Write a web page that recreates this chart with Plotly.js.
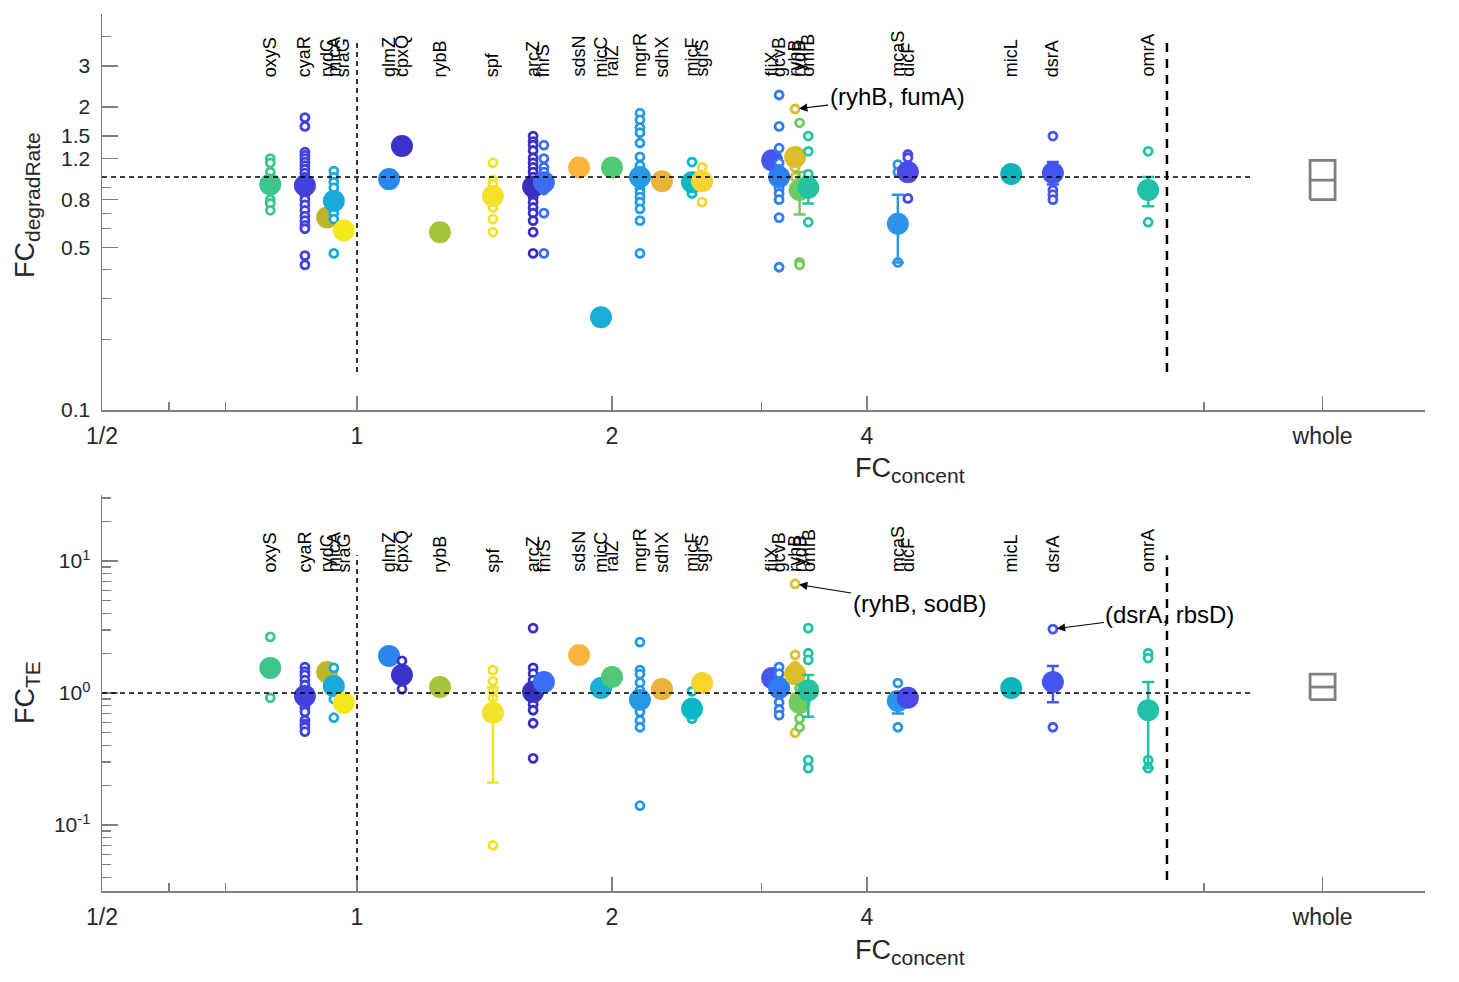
<!DOCTYPE html>
<html>
<head>
<meta charset="utf-8">
<script src="https://cdn.plot.ly/plotly-3.0.1.min.js"></script>
<style>html,body{margin:0;padding:0;background:#fff;}#chart{width:1459px;height:982px;}</style>
</head>
<body>
<div id="chart"></div>
<script>
// ---------------- DATA ----------------
const sRNA = ['oxyS','cyaR','rydC','micA','sraG','glmZ','cpxQ','rybB','spf','arcZ','fnrS','sdsN','micC','ralZ','mgrR','sdhX','micF','sgrS','fliX','gcvB','ryhB','rydB','omrB','mcaS','dicF','micL','dsrA','omrA'];
const fcConcent = [0.79,0.868,0.922,0.939,0.965,1.091,1.13,1.253,1.447,1.614,1.662,1.829,1.941,2.0,2.158,2.291,2.486,2.555,3.09,3.15,3.29,3.33,3.41,4.35,4.47,5.92,6.63,8.59];
const sRNAColors = ['#3DC58C','#4141DE','#BFB52A','#1AA9DB','#F5E91B','#2A87F0','#3B32C9','#A6C43A','#F3E12A','#3A30C0','#3C6EF5','#FBB53C','#18AED6','#52C876','#2598E6','#E9B23A','#06B9C9','#F8D42E','#4756F2','#2E7EF2','#DBBE2A','#6FCB5D','#26C3A0','#2B93E8','#4B48EC','#0DB4B9','#4456F2','#21C0A9'];

// FC of degradation rate: mean per sRNA, error-bar ends (null = none), per-target values
const degradMean = [0.93,0.92,0.67,0.79,0.59,0.98,1.36,0.58,0.83,0.91,0.95,1.1,0.25,1.1,1.0,0.96,0.95,0.96,1.18,1.0,1.22,0.88,0.9,0.63,1.05,1.03,1.04,0.88];
const degradLo = [null,null,null,null,null,null,null,null,null,null,null,null,null,null,null,null,null,null,null,null,null,0.69,0.77,0.43,null,null,0.93,0.75];
const degradHi = [null,null,null,null,null,null,null,null,null,null,null,null,null,null,null,null,null,null,null,null,null,1.05,1.0,0.84,null,null,1.16,1.0];
const degradTargets = [
  [1.2,1.15,1.05,0.97,0.9,0.8,0.77,0.72],
  [1.8,1.65,1.28,1.24,1.2,1.16,1.12,1.08,1.04,1.0,0.96,0.92,0.88,0.84,0.8,0.76,0.72,0.68,0.65,0.62,0.6,0.46,0.42],
  [],
  [1.06,1.0,0.95,0.9,0.7,0.66,0.47],
  [],[],[],[],
  [1.15,0.97,0.93,0.88,0.78,0.74,0.66,0.58],
  [1.5,1.42,1.37,1.3,1.21,1.15,1.1,1.05,1.0,0.95,0.9,0.86,0.82,0.78,0.74,0.7,0.65,0.58,0.47],
  [1.37,1.2,1.1,1.05,1.0,0.92,0.88,0.7,0.47],
  [],[],[],
  [1.88,1.76,1.63,1.55,1.4,1.22,1.12,1.06,1.02,0.98,0.94,0.9,0.86,0.82,0.78,0.73,0.65,0.47],
  [],
  [1.16,1.0,0.9,0.85],
  [1.1,1.02,0.78],
  [],
  [2.25,1.65,1.33,1.15,1.08,1.03,0.97,0.93,0.89,0.85,0.8,0.67,0.41],
  [1.96,1.2,1.1,1.0,0.88],
  [1.71,0.95,0.43,0.42],
  [1.5,1.29,1.03,0.64],
  [1.13,1.05,0.43],
  [1.25,1.21,0.81],
  [],
  [1.5,0.88,0.84,0.8],
  [1.29,0.64]
];

// FC of translation efficiency
const teMean = [1.55,0.95,1.44,1.13,0.84,1.91,1.37,1.11,0.71,1.02,1.21,1.94,1.09,1.32,0.89,1.07,0.76,1.19,1.3,1.09,1.39,0.84,1.05,0.87,0.92,1.09,1.21,0.74];
const teLo = [null,null,null,null,null,null,null,null,0.21,null,null,null,null,null,null,null,null,null,null,null,null,null,0.66,0.7,null,null,0.85,0.27];
const teHi = [null,null,null,null,null,null,null,null,1.1,null,null,null,null,null,null,null,null,null,null,null,null,null,1.37,1.0,null,null,1.6,1.21];
const teTargets = [
  [2.66,0.92],
  [1.57,1.45,1.37,1.25,1.15,1.05,1.0,0.95,0.89,0.82,0.77,0.72,0.62,0.58,0.55,0.51],
  [],
  [1.55,0.9,0.65],
  [],[],
  [1.75,1.07],
  [],
  [1.49,1.23,1.05,0.92,0.07],
  [3.1,1.55,1.4,1.25,1.12,1.0,0.9,0.82,0.74,0.59,0.32],
  [],[],[],[],
  [2.43,1.49,1.39,1.2,1.05,0.95,0.82,0.72,0.62,0.55,0.14],
  [],
  [1.03,0.7,0.64],
  [],[],
  [1.57,1.4,1.2,1.0,0.85,0.75,0.68],
  [6.7,1.94,1.6,0.93,0.81,0.5],
  [1.09,0.95,0.64,0.55],
  [3.1,2.0,1.78,0.31,0.27],
  [1.19,0.55],
  [],
  [1.17,1.01],
  [3.05,0.55],
  [2.0,1.84,0.31,0.27]
];

// "whole" summary box (lower edge, middle, upper edge)
const wholeFC = 13.8;
const wholeDegrad = [0.8, 0.97, 1.18];
const wholeTE = [0.89, 1.11, 1.39];

const xTickVals = [0.5, 1, 2, 4, wholeFC];
const xTickText = ['1/2','1','2','4','whole'];
const xMinorVals = [0.6, 0.7, 3, 10];
const yTopTickVals = [0.1, 0.5, 0.8, 1.2, 1.5, 2, 3];
const yTopTickText = ['0.1','0.5','0.8','1.2','1.5','2','3'];
const yTopMinor = [0.2, 0.3, 0.4, 0.6, 0.7, 0.9, 4];
const yBotTickVals = [0.1, 1, 10];
const yBotTickText = ['10<sup>-1</sup>','10<sup>0</sup>','10<sup>1</sup>'];
const yBotMinor = [0.04,0.05,0.06,0.07,0.08,0.09,0.2,0.3,0.4,0.5,0.6,0.7,0.8,0.9,2,3,4,5,6,7,8,9,20,30];

// reference lines (data values)
const refY = 1;
const refXStart = 0.5, refXEnd = 11.33;
const leftGuideFC = 1, rightGuideFC = 9.04;

// ---------------- BUILD ----------------
const FONT = 'Arial, "Liberation Sans", Helvetica, sans-serif';
const NARROW = '"Liberation Sans Narrow", "Arial Narrow", Arial, "Liberation Sans", sans-serif';
const traces = [];
const L10 = Math.log10;

function addPanel(means, lo, hi, targets, xa, ya) {
  for (let i = 0; i < sRNA.length; i++) {
    const t = targets[i];
    if (t.length) {
      traces.push({
        type: 'scatter', mode: 'markers', xaxis: xa, yaxis: ya,
        x: t.map(() => fcConcent[i]), y: t, hoverinfo: 'skip', showlegend: false,
        marker: {symbol: 'circle', size: 8, color: '#ffffff', line: {color: sRNAColors[i], width: 2.8}}
      });
    }
    const tr = {
      type: 'scatter', mode: 'markers', xaxis: xa, yaxis: ya,
      x: [fcConcent[i]], y: [means[i]], name: sRNA[i], showlegend: false,
      marker: {size: 22, color: sRNAColors[i], line: {width: 0}}
    };
    if (lo[i] !== null) {
      tr.error_y = {type: 'data', symmetric: false, array: [hi[i] - means[i]], arrayminus: [means[i] - lo[i]],
                    color: sRNAColors[i], thickness: 2.5, width: 6};
    }
    traces.push(tr);
  }
}
addPanel(degradMean, degradLo, degradHi, degradTargets, 'x', 'y');
addPanel(teMean, teLo, teHi, teTargets, 'x2', 'y2');

function addBox(vals, xa, ya) {
  const f = Math.pow(2, 0.049);
  const x1 = wholeFC / f, x2 = wholeFC * f;
  traces.push({
    type: 'scatter', mode: 'lines', xaxis: xa, yaxis: ya, showlegend: false, hoverinfo: 'skip',
    x: [x1, x2, x2, x1, x1, null, x1, x2],
    y: [vals[0], vals[0], vals[2], vals[2], vals[0], null, vals[1], vals[1]],
    line: {color: '#7f7f7f', width: 2.8}
  });
}
addBox(wholeDegrad, 'x', 'y');
addBox(wholeTE, 'x2', 'y2');

const xRange = [L10(0.5), L10(18.23)];
function xAxis(anchor) {
  return {
    type: 'log', range: xRange, domain: [102/1459, 1425/1459], anchor: anchor,
    showline: true, linecolor: '#808080', linewidth: 1.5, mirror: false,
    showgrid: false, zeroline: false,
    tickmode: 'array', tickvals: xTickVals, ticktext: xTickText,
    ticks: 'inside', ticklen: 14, tickwidth: 1.2, tickcolor: '#808080',
    minor: {tickmode: 'array', tickvals: xMinorVals, ticks: 'inside', ticklen: 8, tickwidth: 1.2, tickcolor: '#808080', showgrid: false},
    tickfont: {family: FONT, size: 23, color: '#262626'},
    ticklabelstandoff: 5, automargin: false
  };
}
function yAxis(anchor, domain, range, tv, tt, minor) {
  return {
    type: 'log', range: range, domain: domain, anchor: anchor,
    showline: true, linecolor: '#808080', linewidth: 1.5, mirror: false,
    showgrid: false, zeroline: false,
    tickmode: 'array', tickvals: tv, ticktext: tt,
    ticks: 'inside', ticklen: 16, tickwidth: 1.2, tickcolor: '#808080',
    minor: {tickmode: 'array', tickvals: minor, ticks: 'inside', ticklen: 9, tickwidth: 1.2, tickcolor: '#808080', showgrid: false},
    tickfont: {family: FONT, size: 21, color: '#262626'},
    ticklabelstandoff: 6, automargin: false
  };
}

const annotations = [];
// sRNA name labels
function addLabels(xref, yref, ybottom) {
  for (let i = 0; i < sRNA.length; i++) {
    annotations.push({
      x: L10(fcConcent[i]), y: ybottom, xref: xref, yref: yref + ' domain',
      text: sRNA[i], textangle: -90, showarrow: false,
      xanchor: 'center', yanchor: 'bottom',
      font: {family: NARROW, size: 18, color: '#000'}
    });
  }
}
addLabels('x', 'y', 0.836);
addLabels('x2', 'y2', 0.800);

// axis titles
const titleFont = {family: FONT, size: 27, color: '#262626'};
const subStyle = 'font-size:21px';
annotations.push({x: 910/1459, y: 1 - 470/982, xref: 'paper', yref: 'paper', text: 'FC<sub><span style="' + subStyle + '">concent</span></sub>', showarrow: false, font: titleFont, xanchor: 'center', yanchor: 'middle'});
annotations.push({x: 910/1459, y: 1 - 952/982, xref: 'paper', yref: 'paper', text: 'FC<sub><span style="' + subStyle + '">concent</span></sub>', showarrow: false, font: titleFont, xanchor: 'center', yanchor: 'middle'});
annotations.push({x: 27/1459, y: 1 - 205/982, xref: 'paper', yref: 'paper', text: 'FC<sub><span style="' + subStyle + '">degradRate</span></sub>', textangle: -90, showarrow: false, font: titleFont, xanchor: 'center', yanchor: 'middle'});
annotations.push({x: 27/1459, y: 1 - 693/982, xref: 'paper', yref: 'paper', text: 'FC<sub><span style="' + subStyle + '">TE</span></sub>', textangle: -90, showarrow: false, font: titleFont, xanchor: 'center', yanchor: 'middle'});

// arrows to highlighted targets
const callFont = {family: FONT, size: 24, color: '#000'};
const iRyhB = sRNA.indexOf('ryhB'), iDsrA = sRNA.indexOf('dsrA');
annotations.push({x: L10(fcConcent[iRyhB]), y: L10(1.96), xref: 'x', yref: 'y', text: '(ryhB, fumA)', showarrow: true,
  ax: 102, ay: -12, arrowhead: 2, arrowsize: 1.5, arrowwidth: 1.1, arrowcolor: '#000', standoff: 4, font: callFont});
annotations.push({x: L10(fcConcent[iRyhB]), y: L10(6.7), xref: 'x2', yref: 'y2', text: '(ryhB, sodB)', showarrow: true,
  ax: 124, ay: 20, arrowhead: 2, arrowsize: 1.5, arrowwidth: 1.1, arrowcolor: '#000', standoff: 4, font: callFont});
annotations.push({x: L10(fcConcent[iDsrA]), y: L10(3.05), xref: 'x2', yref: 'y2', text: '(dsrA, rbsD)', showarrow: true,
  ax: 117, ay: -15, arrowhead: 2, arrowsize: 1.5, arrowwidth: 1.1, arrowcolor: '#000', standoff: 4, font: callFont});

// reference lines (shapes on log axes take data values in Plotly v3)
const shapes = [];
function refLines(xref, yref, y0v, y1v) {
  shapes.push({type: 'line', xref: xref, yref: yref, x0: refXStart, x1: refXEnd, y0: refY, y1: refY,
               line: {color: '#000', width: 1.6, dash: '5px,4px'}});
  shapes.push({type: 'line', xref: xref, yref: yref + ' domain', x0: leftGuideFC, x1: leftGuideFC, y0: y0v, y1: y1v,
               line: {color: '#000', width: 1.6, dash: '5px,4px'}});
  shapes.push({type: 'line', xref: xref, yref: yref + ' domain', x0: rightGuideFC, x1: rightGuideFC, y0: y0v, y1: y1v,
               line: {color: '#000', width: 2.5, dash: '9px,7px'}});
}
refLines('x', 'y', 0.096, 0.927);
refLines('x2', 'y2', 0.028, 0.848);

const layout = {
  width: 1459, height: 982,
  margin: {l: 0, r: 0, t: 0, b: 0},
  paper_bgcolor: '#fff', plot_bgcolor: 'rgba(0,0,0,0)',
  showlegend: false,
  xaxis: xAxis('y'),
  yaxis: yAxis('x', [1 - 410/982, 1 - 14/982], [-1, 0.7], yTopTickVals, yTopTickText, yTopMinor),
  xaxis2: xAxis('y2'),
  yaxis2: yAxis('x2', [1 - 891/982, 1 - 495/982], [-1.5, 1.5], yBotTickVals, yBotTickText, yBotMinor),
  annotations: annotations,
  shapes: shapes,
  font: {family: FONT}
};

Plotly.newPlot('chart', traces, layout, {displayModeBar: false, staticPlot: true});
</script>
</body>
</html>
